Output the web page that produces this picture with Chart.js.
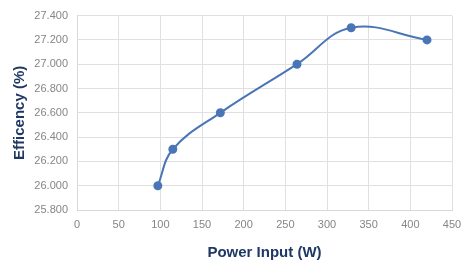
<!DOCTYPE html>
<html><head><meta charset="utf-8">
<script src="https://cdn.jsdelivr.net/npm/chart.js@4/dist/chart.umd.min.js"></script>
<style>html,body{margin:0;padding:0;background:#fff}#wrap{width:474px;height:267px}</style>
</head><body><div id="wrap"><canvas id="c"></canvas></div>
<script>
const powerInput = [97, 115, 172, 264, 329, 420];
const efficiency = [26.0, 26.3, 26.6, 27.0, 27.3, 27.2];
const xTitle = 'Power Input (W)';
const yTitle = 'Efficency (%)';

const pts = powerInput.map((x, i) => ({x, y: efficiency[i]}));
const grid = '#e0e0e0';
new Chart(document.getElementById('c'), {
  type: 'scatter',
  data: { datasets: [{
    data: pts, showLine: true, tension: 0.4,
    borderColor: '#4a76b6', backgroundColor: '#4a76b6',
    borderWidth: 2, pointRadius: 3.5, pointHoverRadius: 3.5
  }]},
  options: {
    responsive: true, maintainAspectRatio: false, animation: false,
    layout: { padding: { top: 14, right: 22, left: 0, bottom: 0 } },
    plugins: { legend: { display: false }, tooltip: { enabled: false } },
    scales: {
      x: {
        type: 'linear', min: 0, max: 450,
        ticks: { stepSize: 50, color: '#858585', font: { family: 'Liberation Sans', size: 11 }, padding: 8 },
        grid: { color: grid, drawTicks: false },
        border: { color: '#d9d9d9' },
        title: { display: true, text: xTitle, color: '#1f3864', font: { family: 'Liberation Sans', size: 15, weight: 'bold' }, padding: { top: 0, bottom: 5 } },
        afterFit: s => { s.height = 57; }
      },
      y: {
        min: 25.8, max: 27.4,
        ticks: { stepSize: 0.2, color: '#858585', font: { family: 'Liberation Sans', size: 11 }, padding: 9,
          callback: v => Number(v).toFixed(3) },
        grid: { color: grid, drawTicks: false },
        border: { color: '#d9d9d9' },
        title: { display: true, text: yTitle, color: '#1f3864', font: { family: 'Liberation Sans', size: 15, weight: 'bold' }, padding: { top: 11, bottom: 0 } },
        afterFit: s => { s.width = 77; }
      }
    }
  }
});
</script></body></html>
